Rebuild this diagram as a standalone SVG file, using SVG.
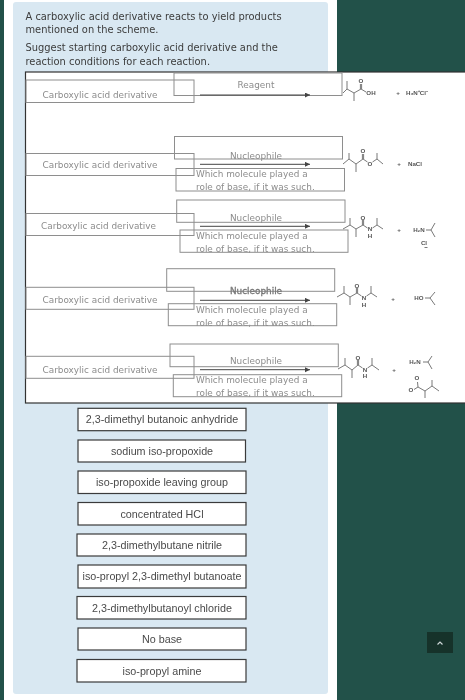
<svg xmlns="http://www.w3.org/2000/svg" width="465" height="700" viewBox="0 0 465 700">
<style>
.q{font:9.9px "DejaVu Sans",sans-serif;fill:#3c3c3c}
.g{font:8.9px "DejaVu Sans",sans-serif;fill:#8c8c8c}
.gs{font:8.9px "DejaVu Sans",sans-serif;fill:#8c8c8c;text-anchor:middle}
.hole{fill:none;stroke:#8e8e8e;stroke-width:1}
.opt{fill:#fff;stroke:#3a3a3a;stroke-width:1.2}
.ot{font:10.75px "Liberation Sans",sans-serif;fill:#4a4a4a;text-anchor:middle}
.arr{stroke:#444;stroke-width:1;fill:none;marker-end:url(#ah)}
.b{fill:none;stroke:#6a6a6a;stroke-width:.9}
.c{font:bold 6.2px "Liberation Sans",sans-serif;fill:#555;text-anchor:middle}
</style>
<defs>
<marker id="ah" markerWidth="6" markerHeight="6" refX="5" refY="2.5" orient="auto" markerUnits="userSpaceOnUse"><path d="M0,0L5,2.5L0,5z" fill="#444"/></marker>
<filter id="soft" x="0" y="0" width="100%" height="100%"><feGaussianBlur stdDeviation="0.35"/></filter>
</defs>
<g filter="url(#soft)">
<rect width="465" height="700" fill="#22514a"/>
<rect x="4" width="333" height="700" fill="#fff"/>
<rect x="13" y="2" width="315" height="692" rx="3" fill="#d9e8f2"/>
<g id="question">
<text class="q" x="25.500" y="20">A carboxylic acid derivative reacts to yield products</text>
<text class="q" x="25.500" y="33">mentioned on the scheme.</text>
<text class="q" x="25.500" y="51">Suggest starting carboxylic acid derivative and the</text>
<text class="q" x="25.500" y="64.500">reaction conditions for each reaction.</text>
</g>
<rect id="scheme" x="25.500" y="72" width="445" height="331" fill="#fff" stroke="#333" stroke-width="1.2"/>
<g id="row1">
<rect class="hole" x="26" y="80" width="168" height="22.500"/>
<rect class="hole" x="174" y="73" width="168" height="22.500"/>
<text class="g" x="42.500" y="98">Carboxylic acid derivative</text>
<text class="gs" x="256" y="88">Reagent</text>
</g>
<g id="row2">
<rect class="hole" x="26" y="153.500" width="168" height="22"/>
<rect class="hole" x="174.500" y="136.500" width="168" height="22.500"/>
<rect class="hole" x="176" y="168.500" width="168.500" height="22.500"/>
<text class="g" x="42.500" y="167.500">Carboxylic acid derivative</text>
<text class="gs" x="256" y="159">Nucleophile</text>
<text class="g" x="196" y="177">Which molecule played a</text>
<text class="g" x="196" y="190">role of base, if it was such.</text>
</g>
<g id="row3">
<rect class="hole" x="26" y="213.500" width="168" height="22"/>
<rect class="hole" x="176.700" y="200" width="168.300" height="22.300"/>
<rect class="hole" x="180" y="230" width="168" height="22.300"/>
<text class="g" x="41" y="229">Carboxylic acid derivative</text>
<text class="gs" x="256" y="220.500">Nucleophile</text>
<text class="g" x="196" y="238.500">Which molecule played a</text>
<text class="g" x="196" y="252">role of base, if it was such.</text>
</g>
<g id="row4">
<rect class="hole" x="26" y="287.300" width="168" height="22"/>
<rect class="hole" x="166.700" y="268.700" width="168" height="22.600"/>
<rect class="hole" x="168.300" y="303.700" width="168.400" height="22"/>
<text class="g" x="42.500" y="303">Carboxylic acid derivative</text>
<text class="gs" x="256" y="294" stroke="#666" stroke-width=".3">Nucleophile</text>
<text class="g" x="196" y="312.500">Which molecule played a</text>
<text class="g" x="196" y="326">role of base, if it was such.</text>
</g>
<g id="row5">
<rect class="hole" x="26" y="356.300" width="168" height="22"/>
<rect class="hole" x="170" y="344" width="168.300" height="22.700"/>
<rect class="hole" x="173.300" y="374.700" width="168.400" height="22"/>
<text class="g" x="42.500" y="372.500">Carboxylic acid derivative</text>
<text class="gs" x="256" y="364">Nucleophile</text>
<text class="g" x="196" y="382.500">Which molecule played a</text>
<text class="g" x="196" y="396">role of base, if it was such.</text>
</g>
<g id="connectors">
<path class="arr" d="M200,95H310"/>
<path class="arr" d="M200,164.300H310"/>
<path class="arr" d="M200,226.300H310"/>
<path class="arr" d="M200,300.300H310"/>
<path class="arr" d="M200,369.700H310"/>
</g>
<g id="product1">
<path class="b" d="M343,93L347,89L347,81M347,89L354,93L354,101M354,93L361,89L366,92M360.400,89V84M361.600,89V84"/>
<text class="c" x="361" y="83">O</text><text class="c" x="371" y="95">OH</text>
<text class="c" x="398" y="95">+</text><text class="c" x="417" y="95">H₃N⁺Cl⁻</text>
</g>
<g id="product2">
<path class="b" d="M343,164L349,159L349,153M349,159L356,164L356,172M356,164L363,159L367.500,162M362.400,159V154M363.600,159V154M372.500,162L377,159L383,164M377,159L377,153"/>
<text class="c" x="363" y="153">O</text><text class="c" x="370" y="166">O</text>
<text class="c" x="399" y="166">+</text><text class="c" x="415" y="166">NaCl</text>
</g>
<g id="product3">
<path class="b" d="M343,229L350,225L350,218M350,225L356,229L356,237M356,229L363,225L367.500,228M362.400,225V220M363.600,225V220M372.500,228L377,225L383,229M377,225L377,218"/>
<text class="c" x="363" y="220">O</text><text class="c" x="370" y="231">N</text><text class="c" x="370" y="238">H</text>
<text class="c" x="399" y="232">+</text><text class="c" x="419" y="232">H₂N</text>
<path class="b" d="M426,230L431,230L435,223M431,230L435,237M424.500,247.500H427.500"/>
<text class="c" x="424" y="245">Cl</text>
</g>
<g id="product4">
<path class="b" d="M337,297L344,293L344,286M344,293L350,297L350,305M350,297L357,293L361.500,296M356.400,293V288M357.600,293V288M366.500,296L371,293L377,297M371,293L371,286"/>
<text class="c" x="357" y="288">O</text><text class="c" x="364" y="300">N</text><text class="c" x="364" y="307">H</text>
<text class="c" x="393" y="301">+</text><text class="c" x="419" y="300">HO</text>
<path class="b" d="M425,298L430,298L435,292M430,298L435,305"/>
</g>
<g id="product5">
<path class="b" d="M338,369L345,365L345,358M345,365L352,370L352,378M352,370L358,365L362.500,368M357.400,365V360M358.600,365V360M367.500,368L372,365L379,370M372,365L372,358"/>
<text class="c" x="358" y="360">O</text><text class="c" x="365" y="372">N</text><text class="c" x="365" y="378">H</text>
<text class="c" x="394" y="372">+</text><text class="c" x="415" y="364">H₂N</text>
<path class="b" d="M423,362L428,362L432,356M428,362L432,369"/>
<text class="c" x="417" y="380">O</text><text class="c" x="411" y="392">O</text>
<path class="b" d="M417.500,382L418,387L414,389.500M418,387L425,391L425,398M425,391L432,386L439,391M432,386L432,380"/>
</g>
<g id="opt1"><rect class="opt" x="78" y="408.300" width="168" height="22.400"/><text class="ot" x="162" y="423">2,3-dimethyl butanoic anhydride</text></g>
<g id="opt2"><rect class="opt" x="78" y="440" width="167.500" height="22"/><text class="ot" x="162" y="454.500">sodium iso-propoxide</text></g>
<g id="opt3"><rect class="opt" x="78" y="471" width="168" height="22.500"/><text class="ot" x="162" y="486">iso-propoxide leaving group</text></g>
<g id="opt4"><rect class="opt" x="78" y="502.500" width="168" height="22.500"/><text class="ot" x="162" y="517.500">concentrated HCl</text></g>
<g id="opt5"><rect class="opt" x="77" y="534" width="169" height="22"/><text class="ot" x="162" y="549">2,3-dimethylbutane nitrile</text></g>
<g id="opt6"><rect class="opt" x="78" y="565" width="168" height="23"/><text class="ot" x="162" y="580">iso-propyl 2,3-dimethyl butanoate</text></g>
<g id="opt7"><rect class="opt" x="77" y="596.500" width="169" height="22.500"/><text class="ot" x="162" y="611.500">2,3-dimethylbutanoyl chloride</text></g>
<g id="opt8"><rect class="opt" x="78" y="628" width="168" height="22"/><text class="ot" x="162" y="643">No base</text></g>
<g id="opt9"><rect class="opt" x="77" y="659.500" width="169" height="22.500"/><text class="ot" x="162" y="674.500">iso-propyl amine</text></g>
<g id="scrollTop"><rect x="427" y="632" width="26" height="21" fill="#14302c"/><path d="M437.500,644.500L440,642L442.500,644.500" fill="none" stroke="#cfd8d6" stroke-width="1.200"/></g>
</g>
</svg>
